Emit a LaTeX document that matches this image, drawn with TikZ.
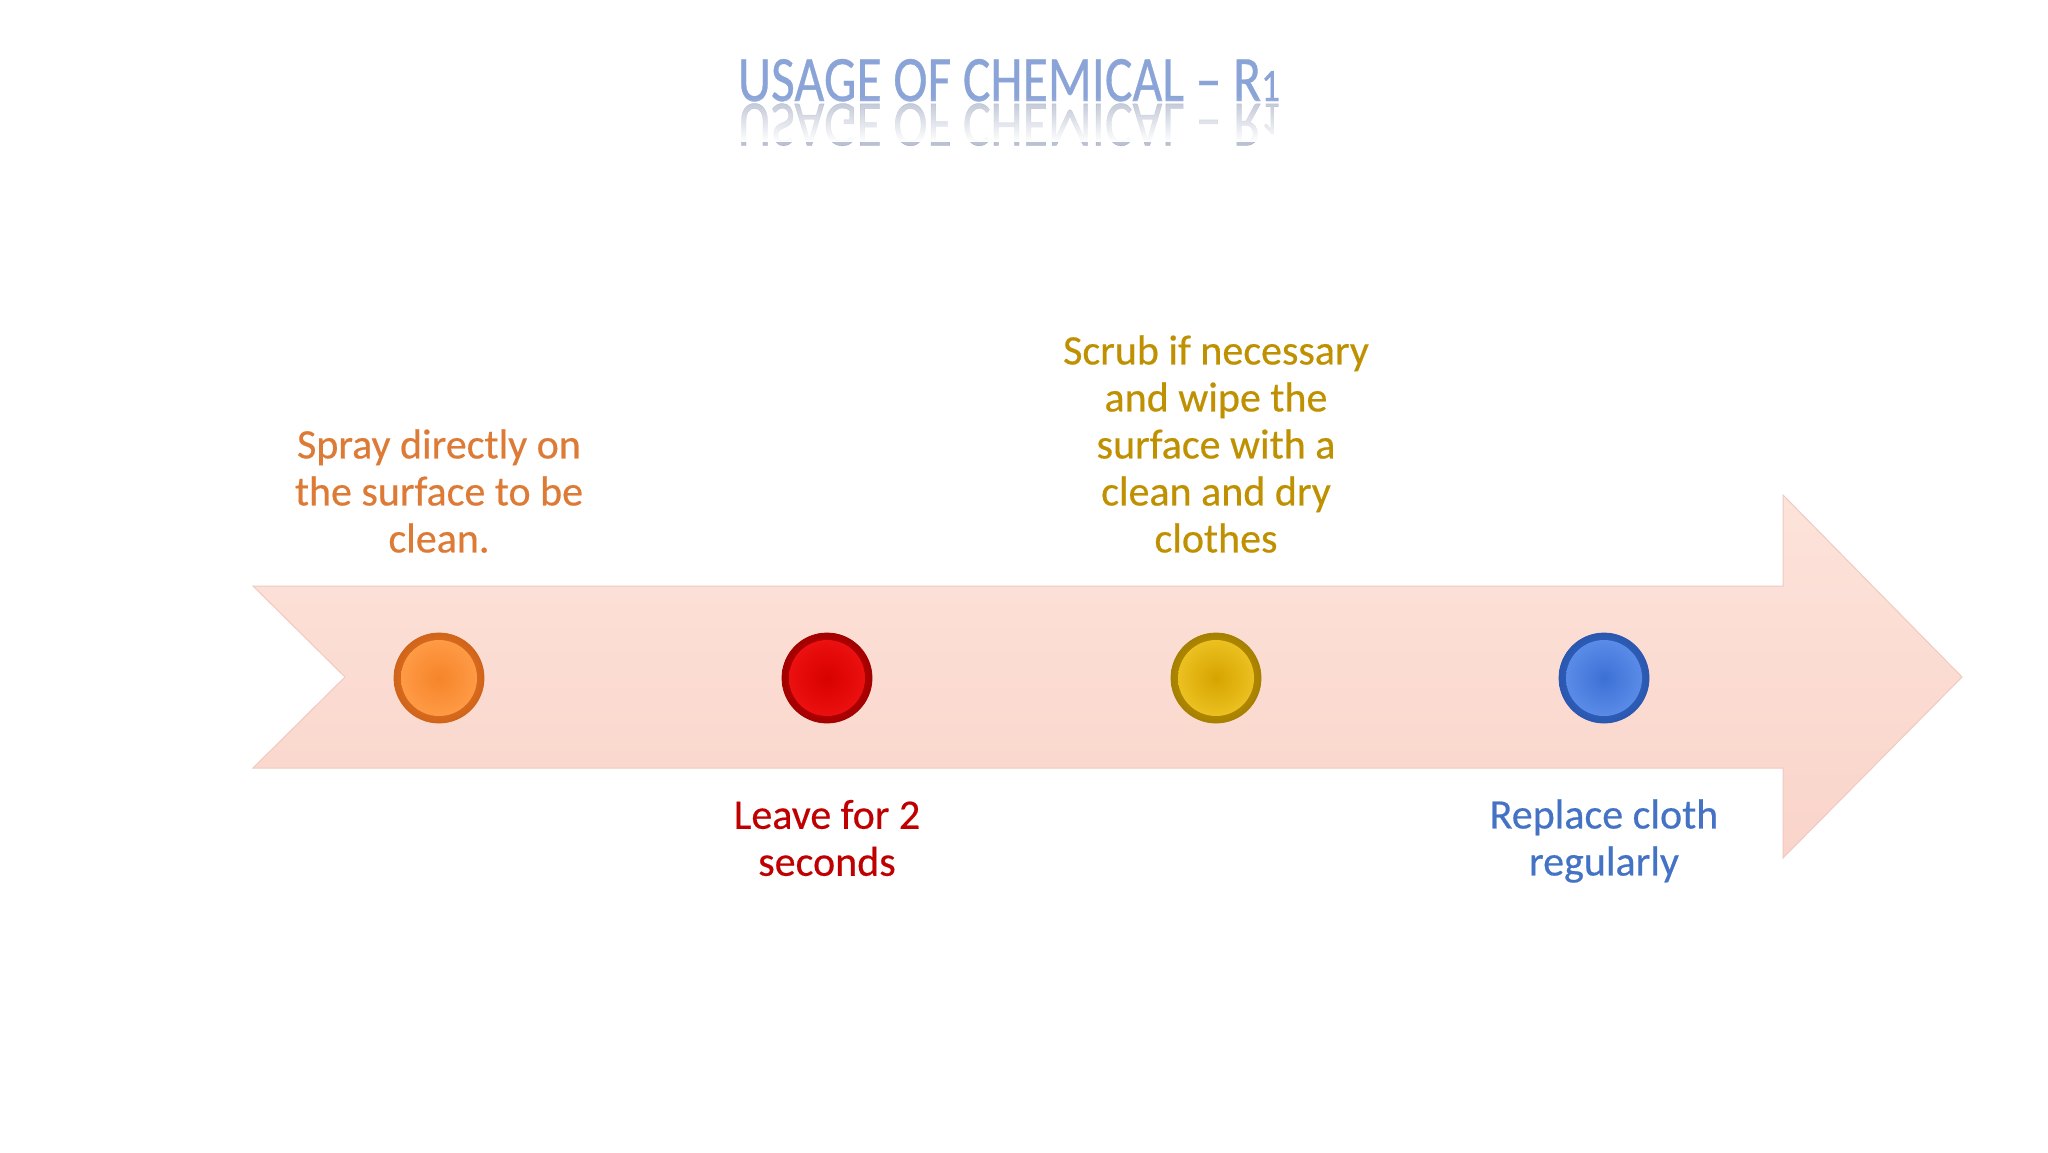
\documentclass[tikz,border=0pt]{standalone}
\usepackage{fontspec}
\setmainfont{Carlito}
\newfontfamily\semibf[FakeBold=0.45]{Carlito}
\newfontfamily\titlefnt[FakeBold=0.6]{Carlito}
\usetikzlibrary{fadings}
\definecolor{titleblue}{HTML}{8AA4D8}
\definecolor{reflblue}{HTML}{8C98B4}
\definecolor{arrowtop}{HTML}{FDE3DA}
\definecolor{arrowbot}{HTML}{F9D4CA}
\definecolor{arrowedge}{HTML}{F0CABF}
\definecolor{txtorange}{HTML}{DD7A35}
\definecolor{txtred}{HTML}{C00000}
\definecolor{txtgold}{HTML}{BF9000}
\definecolor{txtblue}{HTML}{4472C4}
\definecolor{orbase}{HTML}{F5852A}
\definecolor{ordark}{HTML}{D0641A}
\definecolor{orlight}{HTML}{FF9A45}
\definecolor{rdbase}{HTML}{D80000}
\definecolor{rddark}{HTML}{A30000}
\definecolor{rdlight}{HTML}{EC1010}
\definecolor{gdbase}{HTML}{D6A400}
\definecolor{gddark}{HTML}{A68000}
\definecolor{gdlight}{HTML}{EBC020}
\definecolor{blbase}{HTML}{3C70D4}
\definecolor{bldark}{HTML}{2A58B0}
\definecolor{bllight}{HTML}{5A8BE8}
\newcommand{\mytitletxt}{USAGE OF CHEMICAL \textendash\ R\scalebox{0.72}{1}}
\begin{document}
\begin{tikzpicture}[x=0.5pt,y=-0.5pt,
  lbl/.style={align=center, inner sep=0, font=\semibf\fontsize{21pt}{23.5pt}\selectfont},
  dot/.style={circle, inner sep=0, minimum size=45pt, line width=0.4pt},
]
\fill[white] (0,0) rectangle (2048,1152);
\useasboundingbox (0,0) rectangle (2048,1152);

% title and its reflection
\node[anchor=base, inner sep=0, text=titleblue, font=\titlefnt] (title) at (1009,101)
  {\resizebox{271pt}{21pt}{\mytitletxt}};
\node[anchor=north, inner sep=0, text=reflblue, opacity=0.6, font=\titlefnt] (titlerefl) at (1009,103)
  {\scalebox{1}[-1]{\resizebox{271pt}{21pt}{\mytitletxt}}};
\fill[white, path fading=north] (700,96) rectangle (1320,142);

% arrow
\path[top color=arrowtop, bottom color=arrowbot, draw=arrowedge, line width=0.5pt, line join=miter]
  (253,586) -- (1783,586) -- (1783,495) -- (1962,677) -- (1783,858) -- (1783,768)
  -- (253,768) -- (345,677) -- cycle;

% buttons
\node[dot, draw=ordark, inner color=orbase, outer color=ordark] (c1) at (439,678) {};
\shade[inner color=orbase, outer color=orlight] (c1.center) circle (38);
\node[dot, draw=rddark, inner color=rdbase, outer color=rddark] (c2) at (827,678) {};
\shade[inner color=rdbase, outer color=rdlight] (c2.center) circle (38);
\node[dot, draw=gddark, inner color=gdbase, outer color=gddark] (c3) at (1216,678) {};
\shade[inner color=gdbase, outer color=gdlight] (c3.center) circle (38);
\node[dot, draw=bldark, inner color=blbase, outer color=bldark] (c4) at (1604,678) {};
\shade[inner color=blbase, outer color=bllight] (c4.center) circle (38);

% labels
\node[lbl, text=txtorange] (t1) at (439,491) {Spray directly on\\the surface to be\\clean.};
\node[lbl, text=txtred] (t2) at (827,838) {Leave for 2\\seconds};
\node[lbl, text=txtgold] (t3) at (1216,444) {Scrub if necessary\\and wipe the\\surface with a\\clean and dry\\clothes};
\node[lbl, text=txtblue] (t4) at (1604,841) {Replace cloth\\regularly};
\end{tikzpicture}
\end{document}
